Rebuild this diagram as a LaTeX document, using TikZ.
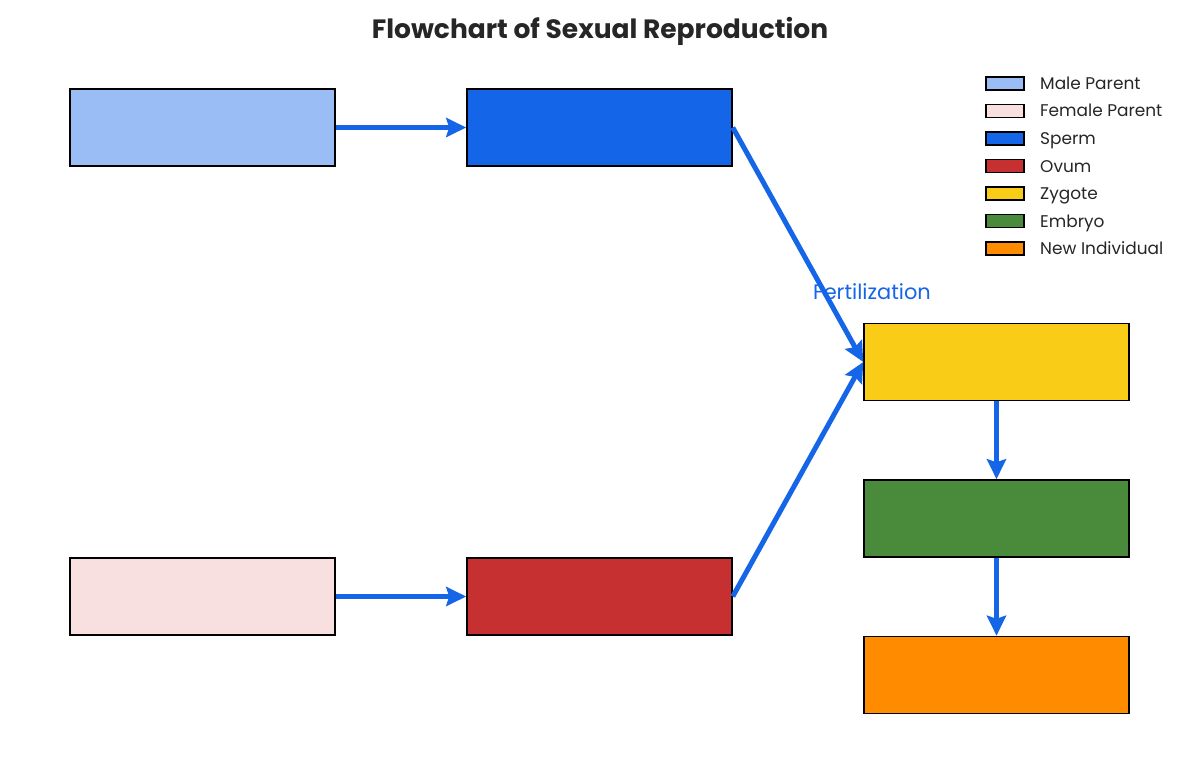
\documentclass[tikz,border=0pt]{standalone}
\usepackage{fontspec}
\setmainfont{Poppins}
\usetikzlibrary{arrows.meta}
\definecolor{cmale}{HTML}{9BBDF6}
\definecolor{cfemale}{HTML}{F8E0E0}
\definecolor{csperm}{HTML}{1565E8}
\definecolor{covum}{HTML}{C63031}
\definecolor{czyg}{HTML}{F9CC17}
\definecolor{cemb}{HTML}{4A8B3B}
\definecolor{cnew}{HTML}{FF8C00}
\definecolor{carrow}{HTML}{1565E8}
\definecolor{ctext}{HTML}{262626}
\tikzset{
  box/.style={draw=black, line width=1.5bp, minimum width=265bp, minimum height=77bp, inner sep=0pt},
  flow/.style={draw=carrow, line width=5bp, -{Stealth[length=20bp,width=19bp,inset=3bp]}},
  patch/.style={draw=black, line width=1.5bp, minimum width=38bp, minimum height=13bp, inner sep=0pt},
  legtext/.style={anchor=west, font=\fontsize{17}{19}\selectfont, text=ctext, inner sep=0pt, text height=12bp, text depth=0bp},
}
\begin{document}
\begin{tikzpicture}[x=1bp,y=-1bp]
\useasboundingbox (0,0) rectangle (1200,763);
\node[font=\fontsize{26.6}{30}\selectfont\bfseries, text=ctext] (title) at (600,31) {Flowchart of Sexual Reproduction};
\node[box, fill=cmale] (male) at (202.5,127.5) {};
\node[box, fill=csperm] (sperm) at (599.5,127.5) {};
\node[box, fill=cfemale] (female) at (202.5,596.5) {};
\node[box, fill=covum] (ovum) at (599.5,596.5) {};
\node[box, fill=czyg] (zyg) at (996.5,362) {};
\node[box, fill=cemb] (emb) at (996.5,518.5) {};
\node[box, fill=cnew] (new) at (996.5,675) {};
\node[font=\fontsize{21}{24}\selectfont, text=carrow] (fert) at (872,292) {Fertilization};
\draw[flow] (male.east) -- (sperm.west);
\draw[flow] (female.east) -- (ovum.west);
\draw[flow] (sperm.east) -- (zyg.west);
\draw[flow] (ovum.east) -- (zyg.west);
\draw[flow] (zyg.south) -- (emb.north);
\draw[flow] (emb.south) -- (new.north);
\foreach \i/\c/\t in {0/cmale/Male Parent,1/cfemale/Female Parent,2/csperm/Sperm,3/covum/Ovum,4/czyg/Zygote,5/cemb/Embryo,6/cnew/New Individual}{
  \node[patch, fill=\c] (p\i) at (1005,83.5+27.5*\i) {};
  \node[legtext] (l\i) at (1040,83.5+27.5*\i) {\t};
}
\end{tikzpicture}
\end{document}
